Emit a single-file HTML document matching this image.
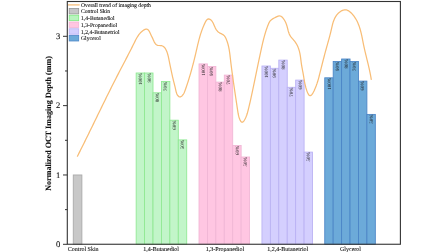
<!DOCTYPE html>
<html><head><meta charset="utf-8"><title>Normalized OCT Imaging Depth</title>
<style>
html,body{margin:0;padding:0;background:#fff;width:448px;height:252px;overflow:hidden}
svg{display:block;filter:blur(0.25px);font-family:'Liberation Serif','Times New Roman',serif;fill:#111;text-rendering:geometricPrecision}
svg text{fill:#111;stroke:#111;stroke-width:0.1px}
svg text.bl{fill:#1a1a1a;stroke:none}
</style></head><body>
<svg width="448" height="252" viewBox="0 0 448 252">
<rect width="448" height="252" fill="#fff"/>
<rect x="73.25" y="174.97" width="8.65" height="69.33" fill="#c8c8c8" stroke="#a8a8a8" stroke-width="0.85"/>
<rect x="136.15" y="73.00" width="8.43" height="171.30" fill="#c2f5c9" stroke="#8fe892" stroke-width="0.85"/>
<rect x="144.58" y="73.00" width="8.43" height="171.30" fill="#c2f5c9" stroke="#8fe892" stroke-width="0.85"/>
<rect x="153.01" y="92.80" width="8.43" height="151.50" fill="#c2f5c9" stroke="#8fe892" stroke-width="0.85"/>
<rect x="161.44" y="81.50" width="8.43" height="162.80" fill="#c2f5c9" stroke="#8fe892" stroke-width="0.85"/>
<rect x="169.87" y="120.20" width="8.43" height="124.10" fill="#c2f5c9" stroke="#8fe892" stroke-width="0.85"/>
<rect x="178.30" y="139.90" width="8.43" height="104.40" fill="#c2f5c9" stroke="#8fe892" stroke-width="0.85"/>
<rect x="199.00" y="63.90" width="8.43" height="180.40" fill="#ffc6e2" stroke="#f0b6d5" stroke-width="0.85"/>
<rect x="207.43" y="66.50" width="8.43" height="177.80" fill="#ffc6e2" stroke="#f0b6d5" stroke-width="0.85"/>
<rect x="215.86" y="82.10" width="8.43" height="162.20" fill="#ffc6e2" stroke="#f0b6d5" stroke-width="0.85"/>
<rect x="224.29" y="75.10" width="8.43" height="169.20" fill="#ffc6e2" stroke="#f0b6d5" stroke-width="0.85"/>
<rect x="232.72" y="145.50" width="8.43" height="98.80" fill="#ffc6e2" stroke="#f0b6d5" stroke-width="0.85"/>
<rect x="241.15" y="157.00" width="8.43" height="87.30" fill="#ffc6e2" stroke="#f0b6d5" stroke-width="0.85"/>
<rect x="261.95" y="66.00" width="8.43" height="178.30" fill="#d4cffe" stroke="#b9b1f3" stroke-width="0.85"/>
<rect x="270.38" y="68.30" width="8.43" height="176.00" fill="#d4cffe" stroke="#b9b1f3" stroke-width="0.85"/>
<rect x="278.81" y="60.10" width="8.43" height="184.20" fill="#d4cffe" stroke="#b9b1f3" stroke-width="0.85"/>
<rect x="287.24" y="87.30" width="8.43" height="157.00" fill="#d4cffe" stroke="#b9b1f3" stroke-width="0.85"/>
<rect x="295.67" y="80.10" width="8.43" height="164.20" fill="#d4cffe" stroke="#b9b1f3" stroke-width="0.85"/>
<rect x="304.10" y="152.10" width="8.43" height="92.20" fill="#d4cffe" stroke="#b9b1f3" stroke-width="0.85"/>
<rect x="324.75" y="77.80" width="8.43" height="166.50" fill="#6caad9" stroke="#4a84c6" stroke-width="0.85"/>
<rect x="333.18" y="61.50" width="8.43" height="182.80" fill="#6caad9" stroke="#4a84c6" stroke-width="0.85"/>
<rect x="341.61" y="59.00" width="8.43" height="185.30" fill="#6caad9" stroke="#4a84c6" stroke-width="0.85"/>
<rect x="350.04" y="61.50" width="8.43" height="182.80" fill="#6caad9" stroke="#4a84c6" stroke-width="0.85"/>
<rect x="358.47" y="81.10" width="8.43" height="163.20" fill="#6caad9" stroke="#4a84c6" stroke-width="0.85"/>
<rect x="366.90" y="114.40" width="8.43" height="129.90" fill="#6caad9" stroke="#4a84c6" stroke-width="0.85"/>
<text transform="translate(140.37,73.30) rotate(-90)" text-anchor="end" font-size="5.0" class="bl" dy="1.7">100%</text>
<text transform="translate(148.80,73.30) rotate(-90)" text-anchor="end" font-size="5.0" class="bl" dy="1.7">90%</text>
<text transform="translate(157.22,93.10) rotate(-90)" text-anchor="end" font-size="5.0" class="bl" dy="1.7">80%</text>
<text transform="translate(165.66,81.80) rotate(-90)" text-anchor="end" font-size="5.0" class="bl" dy="1.7">70%</text>
<text transform="translate(174.09,120.50) rotate(-90)" text-anchor="end" font-size="5.0" class="bl" dy="1.7">60%</text>
<text transform="translate(182.52,140.20) rotate(-90)" text-anchor="end" font-size="5.0" class="bl" dy="1.7">50%</text>
<text transform="translate(203.22,64.20) rotate(-90)" text-anchor="end" font-size="5.0" class="bl" dy="1.7">100%</text>
<text transform="translate(211.65,66.80) rotate(-90)" text-anchor="end" font-size="5.0" class="bl" dy="1.7">90%</text>
<text transform="translate(220.08,82.40) rotate(-90)" text-anchor="end" font-size="5.0" class="bl" dy="1.7">80%</text>
<text transform="translate(228.50,75.40) rotate(-90)" text-anchor="end" font-size="5.0" class="bl" dy="1.7">70%</text>
<text transform="translate(236.94,145.80) rotate(-90)" text-anchor="end" font-size="5.0" class="bl" dy="1.7">60%</text>
<text transform="translate(245.37,157.30) rotate(-90)" text-anchor="end" font-size="5.0" class="bl" dy="1.7">50%</text>
<text transform="translate(266.16,66.30) rotate(-90)" text-anchor="end" font-size="5.0" class="bl" dy="1.7">100%</text>
<text transform="translate(274.59,68.60) rotate(-90)" text-anchor="end" font-size="5.0" class="bl" dy="1.7">90%</text>
<text transform="translate(283.02,60.40) rotate(-90)" text-anchor="end" font-size="5.0" class="bl" dy="1.7">80%</text>
<text transform="translate(291.45,87.60) rotate(-90)" text-anchor="end" font-size="5.0" class="bl" dy="1.7">70%</text>
<text transform="translate(299.88,80.40) rotate(-90)" text-anchor="end" font-size="5.0" class="bl" dy="1.7">60%</text>
<text transform="translate(308.31,152.40) rotate(-90)" text-anchor="end" font-size="5.0" class="bl" dy="1.7">50%</text>
<text transform="translate(328.96,78.10) rotate(-90)" text-anchor="end" font-size="5.0" class="bl" dy="1.7">100%</text>
<text transform="translate(337.39,61.80) rotate(-90)" text-anchor="end" font-size="5.0" class="bl" dy="1.7">90%</text>
<text transform="translate(345.82,59.30) rotate(-90)" text-anchor="end" font-size="5.0" class="bl" dy="1.7">80%</text>
<text transform="translate(354.25,61.80) rotate(-90)" text-anchor="end" font-size="5.0" class="bl" dy="1.7">70%</text>
<text transform="translate(362.69,81.40) rotate(-90)" text-anchor="end" font-size="5.0" class="bl" dy="1.7">60%</text>
<text transform="translate(371.11,114.70) rotate(-90)" text-anchor="end" font-size="5.0" class="bl" dy="1.7">50%</text>
<path d="M77.44,156.20 L77.96,155.18 L78.47,154.16 L78.99,153.14 L79.50,152.12 L80.02,151.10 L80.53,150.08 L81.05,149.06 L81.56,148.03 L82.07,147.01 L82.58,145.99 L83.09,144.96 L83.60,143.94 L84.11,142.91 L84.62,141.89 L85.13,140.86 L85.63,139.83 L86.14,138.80 L86.65,137.78 L87.16,136.75 L87.66,135.72 L88.17,134.69 L88.67,133.66 L89.18,132.63 L89.68,131.60 L90.19,130.57 L90.69,129.54 L91.19,128.51 L91.70,127.48 L92.20,126.45 L92.70,125.42 L93.21,124.39 L93.71,123.36 L94.21,122.32 L94.71,121.29 L95.22,120.26 L95.72,119.23 L96.22,118.20 L96.72,117.17 L97.23,116.13 L97.73,115.10 L98.23,114.07 L98.74,113.04 L99.24,112.01 L99.74,110.98 L100.24,109.95 L100.75,108.92 L101.25,107.88 L101.76,106.85 L102.26,105.82 L102.76,104.79 L103.27,103.76 L103.77,102.73 L104.28,101.70 L104.79,100.68 L105.29,99.65 L105.80,98.62 L106.31,97.59 L106.81,96.56 L107.32,95.54 L107.83,94.51 L108.34,93.48 L108.85,92.46 L109.36,91.43 L109.87,90.41 L110.38,89.38 L110.89,88.36 L111.41,87.34 L111.92,86.31 L112.43,85.29 L112.95,84.27 L113.46,83.25 L113.98,82.23 L114.50,81.21 L115.02,80.19 L115.53,79.18 L116.05,78.16 L116.58,77.14 L117.10,76.13 L117.62,75.11 L118.14,74.10 L118.67,73.09 L119.19,72.07 L119.72,71.06 L120.25,70.05 L120.77,69.04 L121.30,68.03 L121.83,67.01 L122.36,66.00 L122.89,64.99 L123.41,63.98 L123.94,62.97 L124.47,61.95 L125.00,60.94 L125.53,59.92 L126.06,58.91 L126.59,57.89 L127.12,56.87 L127.64,55.85 L128.17,54.83 L128.70,53.81 L129.23,52.78 L129.75,51.76 L130.28,50.73 L130.80,49.70 L131.33,48.67 L131.85,47.63 L132.37,46.60 L132.89,45.56 L133.41,44.52 L133.93,43.47 L134.45,42.43 L134.97,41.38 L135.49,40.34 L136.03,39.31 L136.58,38.29 L137.16,37.29 L137.76,36.31 L138.39,35.36 L139.06,34.44 L139.77,33.56 L140.52,32.71 L141.32,31.91 L142.18,31.17 L143.10,30.47 L144.07,29.86 L145.06,29.41 L146.05,29.17 L147.00,29.23 L147.90,29.65 L148.71,30.48 L149.43,31.64 L150.09,32.95 L150.68,34.25 L151.22,35.41 L151.72,36.44 L152.20,37.40 L152.66,38.36 L153.11,39.40 L153.58,40.50 L154.08,41.62 L154.65,42.68 L155.30,43.65 L156.05,44.45 L156.94,45.04 L157.97,45.37 L159.12,45.50 L160.30,45.57 L161.45,45.69 L162.50,45.99 L163.43,46.50 L164.23,47.19 L164.94,48.02 L165.56,48.96 L166.10,49.96 L166.58,51.00 L167.00,52.06 L167.37,53.13 L167.71,54.23 L168.01,55.34 L168.28,56.46 L168.54,57.58 L168.77,58.72 L169.00,59.86 L169.23,61.00 L169.46,62.14 L169.69,63.28 L169.92,64.42 L170.15,65.56 L170.39,66.70 L170.62,67.84 L170.86,68.97 L171.09,70.10 L171.33,71.23 L171.57,72.35 L171.81,73.46 L172.06,74.57 L172.30,75.68 L172.55,76.77 L172.81,77.86 L173.06,78.94 L173.32,80.01 L173.58,81.07 L173.85,82.13 L174.12,83.19 L174.39,84.26 L174.66,85.35 L174.93,86.47 L175.21,87.61 L175.48,88.80 L175.76,90.03 L176.04,91.30 L176.37,92.56 L176.78,93.78 L177.30,94.89 L177.98,95.84 L178.80,96.56 L179.72,96.91 L180.68,96.79 L181.61,96.24 L182.47,95.42 L183.20,94.48 L183.80,93.49 L184.31,92.44 L184.74,91.37 L185.14,90.27 L185.53,89.18 L185.92,88.08 L186.30,86.98 L186.67,85.88 L187.04,84.78 L187.40,83.68 L187.76,82.57 L188.12,81.47 L188.46,80.37 L188.81,79.26 L189.15,78.15 L189.48,77.05 L189.82,75.94 L190.14,74.83 L190.47,73.73 L190.78,72.62 L191.10,71.51 L191.41,70.40 L191.72,69.29 L192.02,68.18 L192.32,67.07 L192.61,65.96 L192.91,64.85 L193.19,63.74 L193.48,62.64 L193.76,61.53 L194.04,60.42 L194.31,59.31 L194.59,58.21 L194.86,57.10 L195.12,55.99 L195.39,54.89 L195.65,53.78 L195.90,52.68 L196.16,51.58 L196.41,50.47 L196.67,49.37 L196.92,48.27 L197.17,47.17 L197.43,46.07 L197.68,44.97 L197.95,43.87 L198.21,42.77 L198.49,41.67 L198.77,40.57 L199.05,39.47 L199.35,38.36 L199.66,37.26 L199.98,36.15 L200.31,35.05 L200.65,33.94 L201.01,32.83 L201.38,31.72 L201.77,30.61 L202.18,29.49 L202.60,28.37 L203.05,27.26 L203.51,26.13 L204.00,25.01 L204.51,23.88 L205.04,22.75 L205.60,21.64 L206.20,20.63 L206.87,19.80 L207.62,19.22 L208.46,18.97 L209.41,19.11 L210.37,19.60 L211.25,20.32 L212.01,21.20 L212.68,22.22 L213.26,23.32 L213.79,24.47 L214.29,25.64 L214.78,26.77 L215.28,27.86 L215.81,28.87 L216.39,29.82 L217.03,30.70 L217.74,31.50 L218.56,32.21 L219.50,32.84 L220.54,33.39 L221.62,33.92 L222.68,34.47 L223.65,35.11 L224.45,35.89 L225.08,36.80 L225.61,37.80 L226.09,38.82 L226.53,39.86 L226.94,40.91 L227.31,41.98 L227.65,43.05 L227.97,44.14 L228.25,45.24 L228.52,46.35 L228.76,47.46 L228.98,48.59 L229.19,49.72 L229.38,50.85 L229.55,51.99 L229.71,53.14 L229.86,54.29 L230.01,55.44 L230.14,56.59 L230.28,57.74 L230.41,58.89 L230.54,60.04 L230.68,61.18 L230.81,62.33 L230.95,63.47 L231.09,64.61 L231.23,65.75 L231.38,66.89 L231.52,68.02 L231.67,69.16 L231.82,70.29 L231.97,71.42 L232.12,72.55 L232.28,73.68 L232.43,74.81 L232.59,75.94 L232.74,77.07 L232.90,78.20 L233.06,79.33 L233.22,80.46 L233.38,81.59 L233.54,82.72 L233.71,83.85 L233.87,84.98 L234.04,86.11 L234.20,87.25 L234.37,88.38 L234.53,89.52 L234.70,90.65 L234.87,91.79 L235.04,92.93 L235.20,94.07 L235.37,95.21 L235.54,96.35 L235.71,97.49 L235.88,98.63 L236.05,99.77 L236.22,100.91 L236.39,102.04 L236.56,103.17 L236.73,104.30 L236.89,105.43 L237.06,106.56 L237.23,107.68 L237.40,108.79 L237.57,109.90 L237.74,111.01 L237.91,112.12 L238.09,113.23 L238.30,114.36 L238.56,115.51 L238.87,116.70 L239.26,117.94 L239.73,119.23 L240.27,120.45 L240.89,121.46 L241.56,122.11 L242.28,122.26 L243.03,121.87 L243.78,121.06 L244.51,119.98 L245.18,118.75 L245.77,117.52 L246.27,116.33 L246.70,115.18 L247.07,114.06 L247.40,112.97 L247.69,111.89 L247.97,110.81 L248.25,109.72 L248.52,108.64 L248.79,107.54 L249.05,106.45 L249.31,105.35 L249.57,104.24 L249.83,103.13 L250.09,102.02 L250.34,100.91 L250.59,99.79 L250.84,98.68 L251.09,97.56 L251.33,96.43 L251.57,95.31 L251.82,94.19 L252.06,93.06 L252.30,91.94 L252.54,90.81 L252.77,89.68 L253.01,88.56 L253.25,87.43 L253.48,86.31 L253.72,85.18 L253.95,84.06 L254.19,82.93 L254.42,81.81 L254.65,80.69 L254.89,79.56 L255.12,78.44 L255.35,77.31 L255.58,76.19 L255.82,75.07 L256.05,73.95 L256.28,72.82 L256.51,71.70 L256.74,70.58 L256.98,69.46 L257.21,68.34 L257.44,67.22 L257.67,66.09 L257.91,64.97 L258.14,63.85 L258.38,62.73 L258.61,61.61 L258.85,60.49 L259.08,59.37 L259.32,58.25 L259.56,57.13 L259.79,56.01 L260.03,54.90 L260.27,53.78 L260.51,52.66 L260.75,51.54 L261.00,50.42 L261.24,49.30 L261.48,48.19 L261.73,47.07 L261.98,45.95 L262.23,44.84 L262.49,43.72 L262.75,42.61 L263.02,41.49 L263.29,40.38 L263.57,39.27 L263.86,38.16 L264.15,37.05 L264.46,35.94 L264.77,34.83 L265.09,33.73 L265.42,32.62 L265.76,31.52 L266.12,30.42 L266.49,29.32 L266.87,28.23 L267.26,27.13 L267.66,26.04 L268.09,24.95 L268.53,23.87 L269.01,22.82 L269.55,21.83 L270.18,20.93 L270.92,20.15 L271.76,19.48 L272.70,18.87 L273.71,18.30 L274.79,17.72 L275.90,17.13 L277.03,16.58 L278.15,16.15 L279.23,15.94 L280.25,16.00 L281.19,16.39 L282.05,17.03 L282.84,17.85 L283.55,18.78 L284.21,19.75 L284.80,20.74 L285.34,21.77 L285.82,22.82 L286.26,23.89 L286.65,24.99 L287.00,26.10 L287.31,27.23 L287.60,28.36 L287.88,29.50 L288.16,30.63 L288.47,31.74 L288.82,32.84 L289.22,33.90 L289.70,34.92 L290.26,35.89 L290.90,36.82 L291.60,37.71 L292.34,38.59 L293.10,39.46 L293.86,40.33 L294.59,41.22 L295.28,42.14 L295.92,43.08 L296.51,44.05 L297.05,45.05 L297.55,46.07 L298.01,47.11 L298.43,48.17 L298.80,49.24 L299.14,50.33 L299.45,51.43 L299.71,52.53 L299.95,53.65 L300.16,54.77 L300.34,55.90 L300.51,57.03 L300.66,58.17 L300.81,59.31 L300.95,60.45 L301.09,61.60 L301.24,62.74 L301.40,63.89 L301.58,65.04 L301.77,66.19 L301.97,67.34 L302.18,68.48 L302.39,69.62 L302.60,70.75 L302.82,71.86 L303.03,72.97 L303.23,74.06 L303.41,75.13 L303.59,76.19 L303.76,77.24 L303.93,78.29 L304.10,79.34 L304.28,80.41 L304.47,81.49 L304.68,82.61 L304.92,83.76 L305.19,84.95 L305.49,86.18 L305.83,87.48 L306.22,88.84 L306.65,90.22 L307.12,91.57 L307.64,92.83 L308.19,93.94 L308.77,94.83 L309.38,95.43 L310.02,95.70 L310.68,95.58 L311.35,95.12 L312.03,94.37 L312.71,93.39 L313.37,92.24 L314.01,90.97 L314.63,89.63 L315.20,88.28 L315.73,86.98 L316.21,85.74 L316.64,84.54 L317.05,83.39 L317.41,82.28 L317.75,81.19 L318.07,80.13 L318.37,79.09 L318.65,78.06 L318.92,77.04 L319.18,76.01 L319.44,74.98 L319.71,73.94 L319.97,72.89 L320.24,71.83 L320.51,70.75 L320.78,69.67 L321.06,68.57 L321.33,67.47 L321.61,66.37 L321.89,65.25 L322.17,64.13 L322.46,63.01 L322.74,61.88 L323.03,60.75 L323.32,59.62 L323.62,58.49 L323.91,57.35 L324.21,56.22 L324.50,55.08 L324.80,53.95 L325.10,52.82 L325.41,51.70 L325.71,50.58 L326.02,49.46 L326.32,48.35 L326.63,47.25 L326.94,46.14 L327.25,45.05 L327.56,43.95 L327.87,42.86 L328.17,41.76 L328.48,40.67 L328.78,39.58 L329.08,38.49 L329.37,37.40 L329.67,36.30 L329.95,35.20 L330.24,34.10 L330.51,33.00 L330.78,31.89 L331.05,30.77 L331.31,29.65 L331.56,28.52 L331.82,27.40 L332.08,26.27 L332.35,25.14 L332.64,24.02 L332.95,22.91 L333.30,21.81 L333.68,20.73 L334.10,19.66 L334.56,18.62 L335.08,17.59 L335.65,16.60 L336.29,15.63 L337.00,14.69 L337.78,13.79 L338.63,12.93 L339.54,12.15 L340.49,11.44 L341.48,10.84 L342.50,10.36 L343.53,10.02 L344.56,9.83 L345.59,9.81 L346.60,9.98 L347.59,10.33 L348.55,10.83 L349.48,11.46 L350.38,12.19 L351.25,13.00 L352.08,13.87 L352.86,14.77 L353.60,15.69 L354.30,16.63 L354.96,17.59 L355.58,18.57 L356.17,19.55 L356.72,20.56 L357.24,21.58 L357.72,22.61 L358.18,23.65 L358.60,24.71 L359.01,25.77 L359.38,26.85 L359.74,27.93 L360.08,29.02 L360.39,30.13 L360.69,31.23 L360.97,32.35 L361.24,33.47 L361.50,34.59 L361.75,35.72 L361.99,36.85 L362.22,37.98 L362.45,39.12 L362.67,40.26 L362.89,41.39 L363.12,42.53 L363.34,43.66 L363.57,44.79 L363.81,45.92 L364.05,47.04 L364.30,48.17 L364.55,49.29 L364.80,50.40 L365.06,51.52 L365.33,52.63 L365.59,53.75 L365.86,54.86 L366.13,55.97 L366.40,57.07 L366.67,58.18 L366.94,59.29 L367.21,60.40 L367.49,61.50 L367.75,62.61 L368.02,63.72 L368.29,64.83 L368.55,65.94 L368.81,67.05 L369.06,68.17 L369.31,69.28 L369.56,70.40 L369.80,71.52 L370.03,72.64 L370.26,73.77 L370.48,74.89 L370.69,76.03 L370.89,77.16 L371.09,78.30 L371.27,79.44" fill="none" stroke="#f8bd76" stroke-width="1.25" stroke-linecap="round" stroke-linejoin="round"/>
<rect x="67.3" y="1.5" width="333.1" height="242.75" fill="none" stroke="#333" stroke-width="1.1"/>
<line x1="63" y1="244.30" x2="67.3" y2="244.30" stroke="#333" stroke-width="1"/>
<text x="60.3" y="247.15" text-anchor="end" font-size="8.5">0</text>
<line x1="63" y1="174.97" x2="67.3" y2="174.97" stroke="#333" stroke-width="1"/>
<text x="60.3" y="177.82" text-anchor="end" font-size="8.5">1</text>
<line x1="63" y1="105.64" x2="67.3" y2="105.64" stroke="#333" stroke-width="1"/>
<text x="60.3" y="108.49" text-anchor="end" font-size="8.5">2</text>
<line x1="63" y1="36.31" x2="67.3" y2="36.31" stroke="#333" stroke-width="1"/>
<text x="60.3" y="39.16" text-anchor="end" font-size="8.5">3</text>
<line x1="65" y1="209.64" x2="67.3" y2="209.64" stroke="#333" stroke-width="1"/>
<line x1="65" y1="140.31" x2="67.3" y2="140.31" stroke="#333" stroke-width="1"/>
<line x1="65" y1="70.98" x2="67.3" y2="70.98" stroke="#333" stroke-width="1"/>
<text transform="translate(51.3,123.4) rotate(-90)" text-anchor="middle" font-size="8.1" font-weight="bold">Normalized OCT Imaging Depth (mm)</text>
<text x="67.75" y="251.1" text-anchor="start" font-size="6.0">Control Skin</text>
<text x="161.10" y="251.1" text-anchor="middle" font-size="6.0">1,4-Butanediol</text>
<text x="224.90" y="251.1" text-anchor="middle" font-size="6.0">1,3-Propanediol</text>
<text x="287.75" y="251.1" text-anchor="middle" font-size="6.0">1,2,4-Butanetriol</text>
<text x="350.50" y="251.1" text-anchor="middle" font-size="6.0">Glycerol</text>
<line x1="68" y1="4.9" x2="79.7" y2="4.9" stroke="#f8bd76" stroke-width="1.25"/>
<text x="81.0" y="7.2" font-size="5.65">Overall trend of imaging depth</text>
<rect x="69.2" y="8.45" width="9.5" height="5.45" fill="#c6c6c8" stroke="#969696" stroke-width="0.8"/>
<text x="81.0" y="13.30" font-size="5.65">Control Skin</text>
<rect x="69.2" y="15.22" width="9.5" height="5.45" fill="#b8f4be" stroke="#7fe881" stroke-width="0.8"/>
<text x="81.0" y="20.07" font-size="5.65">1,4-Butanediol</text>
<rect x="69.2" y="21.99" width="9.5" height="5.45" fill="#ffc6e1" stroke="#f2b3d3" stroke-width="0.8"/>
<text x="81.0" y="26.84" font-size="5.65">1,3-Propanediol</text>
<rect x="69.2" y="28.76" width="9.5" height="5.45" fill="#d4cffe" stroke="#b9b1f3" stroke-width="0.8"/>
<text x="81.0" y="33.61" font-size="5.65">1,2,4-Butanetriol</text>
<rect x="69.2" y="35.53" width="9.5" height="5.45" fill="#6caad9" stroke="#4c86c9" stroke-width="0.8"/>
<text x="81.0" y="40.38" font-size="5.65">Glycerol</text>
</svg>
</body></html>
